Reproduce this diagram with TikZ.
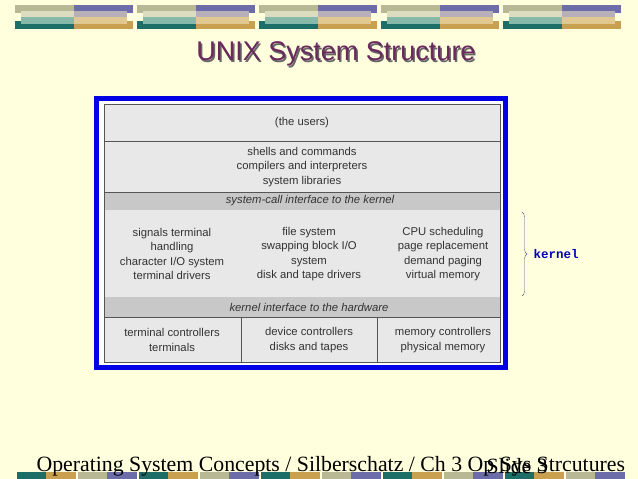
\documentclass[tikz,border=0pt]{standalone}
\usepackage{fontspec}
\setmainfont{Liberation Serif}
\newfontfamily\arial{Liberation Sans}
\newfontfamily\cour{Liberation Mono}
\usetikzlibrary{decorations.pathreplacing}
\definecolor{bg}{HTML}{FFFFDD}
\definecolor{tgrey}{HTML}{B8B894}
\definecolor{tpurp}{HTML}{6C6CA8}
\definecolor{tteal}{HTML}{1C6E66}
\definecolor{tgold}{HTML}{C8A050}
\definecolor{lgrey}{HTML}{DCDCC0}
\definecolor{lteal}{HTML}{88B8A8}
\definecolor{lpurp}{HTML}{B8B0B8}
\definecolor{lgold}{HTML}{E0C890}
\definecolor{ttl}{HTML}{6A2A5E}
\definecolor{boxg}{HTML}{E8E8E8}
\definecolor{bandg}{HTML}{C8C8C8}
\definecolor{edge}{HTML}{555555}
\tikzset{
 txt/.style={font=\arial\fontsize{11.3}{14.3}\selectfont, text=black!80, align=center},
 band/.style={font=\arial\itshape\fontsize{11.3}{14}\selectfont, text=black!80}
}
\begin{document}
\begin{tikzpicture}[x=1pt,y=-1pt]
\fill[bg] (0,0) rectangle (638,479);
\useasboundingbox (0,0) rectangle (638,479);
% top tiles
\foreach \i in {0,...,4}{
 \begin{scope}[shift={(15+122*\i,5)}]
 \fill[tgrey] (0,0) rectangle (59,8);
 \fill[tpurp] (59,0) rectangle (118,8);
 \fill[tteal] (0,16) rectangle (59,24);
 \fill[tgold] (59,16) rectangle (118,24);
 \fill[lgrey] (6,6) rectangle (59,12);
 \fill[lteal] (6,12) rectangle (59,19);
 \fill[lpurp] (59,6) rectangle (112,12);
 \fill[lgold] (59,12) rectangle (112,19);
 \end{scope}}
% bottom bars
\foreach \i in {0,...,4}{
 \begin{scope}[shift={(17+122*\i,472)}]
 \fill[tteal] (0,0) rectangle (29,7);
 \fill[tgold] (29,0) rectangle (59,7);
 \fill[tgrey] (61,0) rectangle (90,7);
 \fill[tpurp] (90,0) rectangle (120,7);
 \end{scope}}
% title
\node[text=black!60, font=\arial\fontsize{27}{30}\selectfont] at (337.5,55.5) {UNIX System Structure};
\node (title) [text=ttl, font=\arial\fontsize{27}{30}\selectfont] at (336,54) {UNIX System Structure};
% frame
\fill[white] (94,96) rectangle (508,370);
\draw[blue!90!black, line width=5] (96.5,98.5) rectangle (505.5,367.5);
\fill[boxg] (104,104) rectangle (500,362);
\fill[bandg] (104,192) rectangle (500,210);
\fill[bandg] (104,297) rectangle (500,317);
\draw[edge, line width=1] (104,104) rectangle (500,362);
\draw[edge] (104,141) -- (500,141);
\draw[edge] (104,192) -- (500,192);
\draw[edge] (104,317) -- (500,317);
\draw[edge] (241,317) -- (241,362);
\draw[edge] (377,317) -- (377,362);
\node (users) [txt] at (302,123) {(the users)};
\node (shells) [txt] at (302,167) {shells and commands\\compilers and interpreters\\system libraries};
\node (sci) [band] at (310,201) {system-call interface to the kernel};
\node (k1) [txt] at (172,254) {signals terminal\\handling\\character I/O system\\terminal drivers};
\node (k2) [txt] at (309,254) {file system\\swapping block I/O\\system\\disk and tape drivers};
\node (k3) [txt] at (443,254) {CPU scheduling\\page replacement\\demand paging\\virtual memory};
\node (khw) [band] at (309,307) {kernel interface to the hardware};
\node (b1) [txt] at (172,340) {terminal controllers\\terminals};
\node (b2) [txt] at (309,340) {device controllers\\disks and tapes};
\node (b3) [txt] at (443,340) {memory controllers\\physical memory};
% brace
\coordinate (bt) at (522,212);
\coordinate (bb) at (522,296);
\draw[tpurp!80!black, decorate, decoration={brace, amplitude=5pt}] (bt) -- (bb);
\node (kern) [anchor=west, text=blue!70!black, font=\cour\bfseries\fontsize{12.5}{14}\selectfont] at (530,254) {kernel};
% footer
\node (foot) [anchor=west, font=\fontsize{21.8}{23}\selectfont] at (33,466) {Operating System Concepts / Silberschatz / Ch 3 Op Sys Strcutures};
\node (slide) [anchor=west, font=\fontsize{21.8}{23}\selectfont] at (483,466) {Slide 3};
\end{tikzpicture}
\end{document}
